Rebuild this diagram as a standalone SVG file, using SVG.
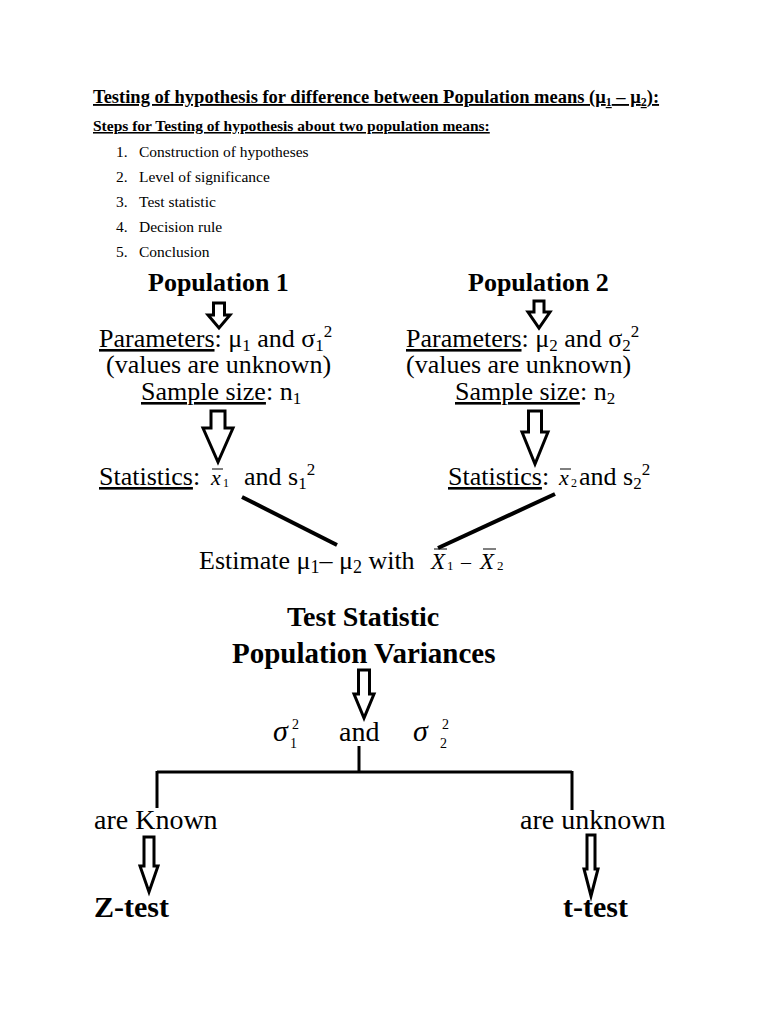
<svg xmlns="http://www.w3.org/2000/svg" width="768" height="1024" viewBox="0 0 768 1024">
<defs>
<style>
text{font-family:"Liberation Serif","Times New Roman",serif;fill:#000}
.b{font-weight:bold}
.u{text-decoration:underline}
.h1{font-size:18.5px;font-weight:bold}
.h2{font-size:15.5px;font-weight:bold}
.li{font-size:15.5px}
.t{font-size:26px}
.tb{font-size:26px;font-weight:bold}
.tb2{font-size:28px;font-weight:bold}
.t2{font-size:28px}
.it{font-style:italic}
.arrow{fill:#fff;stroke:#000;stroke-width:3;stroke-linejoin:miter}
.ln{stroke:#000;fill:none}
</style>
</defs>
<rect width="768" height="1024" fill="#fff"/>

<g id="header">
<text class="h1 u" x="93" y="103">Testing of hypothesis for difference between Population means (μ<tspan font-size="12" dy="3">1</tspan><tspan dy="-3"> – μ</tspan><tspan font-size="12" dy="3">2</tspan><tspan dy="-3">):</tspan></text>
<text class="h2 u" x="93" y="131">Steps for Testing of hypothesis about two population means:</text>
<g>
<text class="li" x="116" y="157">1.</text><text class="li" x="139" y="157">Construction of hypotheses</text>
<text class="li" x="116" y="182">2.</text><text class="li" x="139" y="182">Level of significance</text>
<text class="li" x="116" y="207">3.</text><text class="li" x="139" y="207">Test statistic</text>
<text class="li" x="116" y="232">4.</text><text class="li" x="139" y="232">Decision rule</text>
<text class="li" x="116" y="257">5.</text><text class="li" x="139" y="257">Conclusion</text>
</g>
</g>

<g id="pop1">
<text class="tb" x="148" y="291">Population 1</text>
</g>
<g id="params1">
<text class="t" x="99" y="347"><tspan class="u">Parameters</tspan>:  μ<tspan font-size="17" dy="4">1</tspan><tspan dy="-4"> and σ</tspan><tspan font-size="17" dy="4">1</tspan><tspan font-size="17" dy="-14">2</tspan></text>
<text class="t" x="106" y="373">(values are unknown)</text>
<text class="t" x="141" y="400"><tspan class="u">Sample size</tspan>: n<tspan font-size="17" dy="4">1</tspan></text>
</g>
<g id="stats1">
<text class="t" x="99" y="485"><tspan class="u">Statistics</tspan>:</text>
<text class="it" font-size="22" x="211" y="485">x</text>
<text font-size="12" x="223" y="487">1</text>
<text class="t" x="244" y="485">and s<tspan font-size="17" dy="4">1</tspan><tspan font-size="17" dy="-14">2</tspan></text>
<line class="ln" x1="212" y1="469" x2="223" y2="469" stroke-width="1"/>
</g>

<g id="pop2">
<text class="tb" x="468" y="291">Population 2</text>
</g>
<g id="params2">
<text class="t" x="406" y="347"><tspan class="u">Parameters</tspan>: μ<tspan font-size="17" dy="4">2</tspan><tspan dy="-4"> and σ</tspan><tspan font-size="17" dy="4">2</tspan><tspan font-size="17" dy="-14">2</tspan></text>
<text class="t" x="406" y="373">(values are unknown)</text>
<text class="t" x="455" y="400"><tspan class="u">Sample size</tspan>: n<tspan font-size="17" dy="4">2</tspan></text>
</g>
<g id="stats2">
<text class="t" x="448" y="485"><tspan class="u">Statistics</tspan>:</text>
<text class="it" font-size="22" x="559" y="485">x</text>
<text font-size="12" x="571" y="487">2</text>
<text class="t" x="579" y="485">and s<tspan font-size="17" dy="4">2</tspan><tspan font-size="17" dy="-14">2</tspan></text>
<line class="ln" x1="560" y1="469" x2="571" y2="469" stroke-width="1"/>
</g>

<g id="estimate">
<text class="t" x="199" y="569">Estimate μ<tspan font-size="18" dy="4">1</tspan><tspan dy="-4">– μ</tspan><tspan font-size="18" dy="4">2</tspan><tspan dy="-4"> with</tspan></text>
<text class="it" font-size="23" x="431" y="569">X</text>
<text font-size="13" x="447" y="570">1</text>
<text font-size="20" x="461" y="569">–</text>
<text class="it" font-size="23" x="480" y="569">X</text>
<text font-size="13" x="497" y="570">2</text>
<line class="ln" x1="434" y1="549" x2="447" y2="549" stroke-width="1"/>
<line class="ln" x1="483" y1="549" x2="496" y2="549" stroke-width="1"/>
</g>

<g id="test-statistic">
<text class="tb2" x="287" y="626">Test Statistic</text>
</g>
<g id="pop-variances">
<text class="tb2" font-size="29" x="232" y="663" style="font-size:29px">Population Variances</text>
</g>
<g id="sigmas">
<text class="it" font-size="30" x="273" y="741">σ</text>
<text x="290" y="748" font-size="14">1</text>
<text x="292" y="729" font-size="14">2</text>
<text class="t2" x="339" y="741">and</text>
<text class="it" font-size="30" x="413" y="741">σ</text>
<text x="440" y="748" font-size="14">2</text>
<text x="442" y="729" font-size="14">2</text>
</g>
<g id="known">
<text class="t2" x="94" y="829">are Known</text>
</g>
<g id="unknown">
<text class="t2" x="520" y="829">are unknown</text>
</g>
<g id="ztest">
<text class="b" font-size="30" x="94" y="917">Z-test</text>
</g>
<g id="ttest">
<text class="b" font-size="30" x="563" y="917">t-test</text>
</g>

<g id="connectors">
<path class="arrow" d="M213.5,303 H224.5 V315 H230 L219,328 L208,315 H213.5 Z"/>
<path class="arrow" d="M211,411 H225 V428 H233 L218,462 L203,428 H211 Z"/>
<path class="arrow" d="M534,301 H544 V312 H550 L539,328 L528,312 H534 Z"/>
<path class="arrow" d="M528.5,411 H541.5 V432 H548 L535,464 L522,432 H528.5 Z"/>
<path class="arrow" d="M358.5,670 H369.5 V694 H374 L364,718 L354,694 H358.5 Z"/>
<path class="arrow" d="M144,837 H154 V866 H158 L149,892 L140,866 H144 Z"/>
<path class="arrow" d="M587,835 H595 V869 H598 L591,896 L584,869 H587 Z"/>
<line class="ln" x1="242" y1="497" x2="337" y2="545" stroke-width="4"/>
<line class="ln" x1="555" y1="494" x2="438" y2="548" stroke-width="4"/>
<line class="ln" x1="359" y1="746" x2="359" y2="772" stroke-width="3"/>
<line class="ln" x1="157" y1="772" x2="572" y2="772" stroke-width="3"/>
<line class="ln" x1="157" y1="771" x2="157" y2="808" stroke-width="3"/>
<line class="ln" x1="572" y1="771" x2="572" y2="810" stroke-width="3"/>
</g>
</svg>
